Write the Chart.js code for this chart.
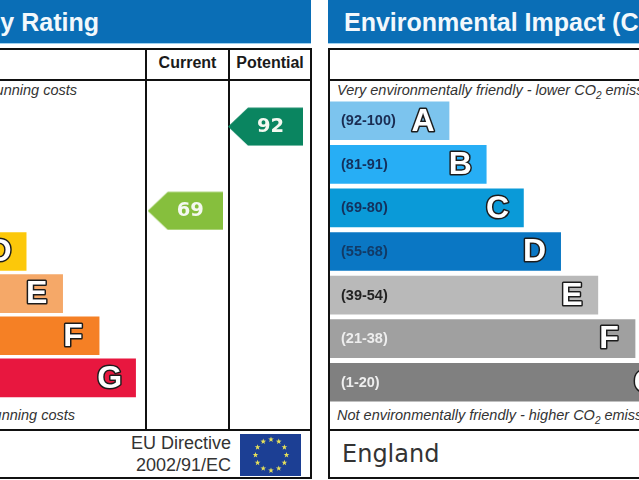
<!DOCTYPE html>
<html>
<head>
<meta charset="utf-8">
<title>Energy Efficiency Rating and Environmental Impact</title>
<script src="https://cdn.jsdelivr.net/npm/chart.js@4/dist/chart.umd.min.js"></script>
<style>
  html, body { margin: 0; padding: 0; background: #fff; }
  body { position: relative; width: 639px; height: 480px; overflow: hidden; font-family: "Liberation Sans", Arial, sans-serif; }
  .abs { position: absolute; white-space: nowrap; }
  .head { top: 0; height: 43px; background: #0a6eb6; border-bottom: 1px solid #9fd0ee; }
  .title { color: #f2f8fc; font-weight: bold; font-size: 25px; line-height: 44px; }
  .rule { position: absolute; background: #111; }
  .note { font-style: italic; font-size: 14.5px; line-height: 18px; color: #333; }
  .note sub { font-size: 10px; line-height: 0; vertical-align: -4px; }
  .col { font-weight: bold; font-size: 16px; line-height: 20px; color: #1a1a1a; text-align: center; }
  .eu { font-size: 18px; line-height: 22px; color: #333; text-align: right; }
  canvas { position: absolute; display: block; }
</style>
</head>
<body>

<div class="abs head" style="left:-10px;width:321px"></div>
<div class="abs head" style="left:328px;width:320px"></div>
<div class="abs title" style="right:540px">Energy Efficiency Rating</div>
<div class="abs title" style="left:344px">Environmental Impact (CO<sub style="font-size:16px">2</sub>) Rating</div>

<!-- table frames -->
<div class="rule" style="left:0;top:48px;width:312px;height:2px"></div>
<div class="rule" style="left:0;top:79px;width:312px;height:2px"></div>
<div class="rule" style="left:0;top:429px;width:312px;height:2px"></div>
<div class="rule" style="left:0;top:477px;width:312px;height:2px"></div>
<div class="rule" style="left:310px;top:48px;width:2px;height:431px"></div>
<div class="rule" style="left:145px;top:48px;width:2px;height:382px"></div>
<div class="rule" style="left:228px;top:48px;width:2px;height:382px"></div>
<div class="rule" style="left:328px;top:48px;width:2px;height:431px"></div>
<div class="rule" style="left:328px;top:48px;width:311px;height:2px"></div>
<div class="rule" style="left:328px;top:79px;width:311px;height:2px"></div>
<div class="rule" style="left:328px;top:429px;width:311px;height:2px"></div>
<div class="rule" style="left:328px;top:477px;width:311px;height:2px"></div>

<div class="abs col" style="left:146px;width:83px;top:53px">Current</div>
<div class="abs col" style="left:229px;width:82px;top:53px">Potential</div>

<div class="abs note" style="right:562px;top:81px">Very energy efficient - lower running costs</div>
<div class="abs note" style="right:564px;top:406px">Not energy efficient - higher running costs</div>
<div class="abs note" style="left:337px;top:81px">Very environmentally friendly - lower CO<sub>2</sub> emissions</div>
<div class="abs note" style="left:337px;top:406px">Not environmentally friendly - higher CO<sub>2</sub> emissions</div>

<div class="abs eu" style="right:408px;top:432px">EU Directive<br>2002/91/EC</div>
<svg id="flag" class="abs" style="left:240px;top:434px" width="61" height="42" viewBox="0 0 61 42"></svg>
<div class="abs" style="left:342px;top:439px;font:24px/30px 'DejaVu Sans',sans-serif;color:#333">England</div>

<canvas id="efficiency" width="515" height="305" style="left:-205px;top:99px"></canvas>
<canvas id="impact" width="350" height="305" style="left:330px;top:99px"></canvas>

<script>
const bandLabels = ['A', 'B', 'C', 'D', 'E', 'F', 'G'];
const bandRanges = ['(92-100)', '(81-91)', '(69-80)', '(55-68)', '(39-54)', '(21-38)', '(1-20)'];
const bandMins   = [92, 81, 69, 55, 39, 21, 1];
const barLengths = [32, 42, 52, 62, 72, 82, 92];
const efficiencyColors = ['#008054', '#19b459', '#8dce46', '#fcc80a', '#f5a868', '#f58025', '#e8173f'];
const impactColors     = ['#7cc4ee', '#27aef5', '#0a9ad8', '#0a77c4', '#b9b9b9', '#a0a0a0', '#808080'];
const rangeColors      = ['#1a2c52', '#14305c', '#14305c', '#123a66', '#222222', '#eeeeee', '#eeeeee'];
const currentRating   = [69];
const potentialRating = [92];

const PX_PER_UNIT = 3.72;
const CURRENT_COL_X = 105.6, POTENTIAL_COL_X = 127.6;   // column centres in bar units

const bandOf = r => bandLabels[bandMins.findIndex(m => r >= m)];

// pennant marker, sits a touch below the band centre like the original
function pennant(color) {
  const c = document.createElement('canvas');
  c.width = 75; c.height = 42;
  const g = c.getContext('2d');
  g.fillStyle = color;
  g.beginPath();
  g.moveTo(0, 22.5); g.lineTo(20, 3.5); g.lineTo(75, 3.5); g.lineTo(75, 41.5); g.lineTo(20, 41.5);
  g.closePath(); g.fill();
  return c;
}

// range text + outlined band letters + pennant numbers
const bandText = {
  id: 'bandText',
  afterDatasetsDraw(chart) {
    const { ctx, scales: { x, y } } = chart;
    ctx.save();
    ctx.textBaseline = 'middle';
    bandLabels.forEach((lbl, i) => {
      const cy = y.getPixelForValue(i);
      ctx.textAlign = 'left';
      ctx.font = 'bold 14.5px "Liberation Sans"';
      ctx.fillStyle = rangeColors[i];
      ctx.fillText(bandRanges[i], x.getPixelForValue(0) + 11, cy + 0.5);
      ctx.textAlign = 'center';
      ctx.font = 'bold 32px "Liberation Sans"';
      ctx.lineJoin = 'round';
      ctx.lineWidth = 3;
      ctx.strokeStyle = '#1c1c1c';
      const lx = x.getPixelForValue(barLengths[i]) - 26;
      ctx.strokeText(lbl, lx, cy + 1);
      ctx.fillStyle = '#fff';
      ctx.fillText(lbl, lx, cy + 1);
    });
    chart.data.datasets.forEach((ds, d) => {
      if (!ds.ratings) return;
      chart.getDatasetMeta(d).data.forEach((pt, i) => {
        ctx.textAlign = 'center';
        ctx.font = 'bold 19.5px "DejaVu Sans"';
        ctx.fillStyle = '#f4f8f0';
        ctx.fillText(String(ds.ratings[i]), pt.x + 5, pt.y + 2);
      });
    });
    ctx.restore();
  }
};

function bandChart(id, colors, extra) {
  const cv = document.getElementById(id);
  return new Chart(cv, {
    data: {
      labels: bandLabels,
      datasets: [
        { type: 'bar', data: barLengths, backgroundColor: colors, barThickness: 38, borderWidth: 0 },
        ...extra,
      ],
    },
    options: {
      indexAxis: 'y',
      responsive: false,
      animation: false,
      layout: { padding: 0 },
      plugins: { legend: { display: false }, tooltip: { enabled: false } },
      scales: {
        x: { type: 'linear', display: false, min: 0, max: cv.width / PX_PER_UNIT },
        y: { type: 'category', display: false, labels: bandLabels, grid: { display: false } },
      },
    },
    plugins: [bandText],
  });
}

function marker(ratings, colX, color) {
  return {
    type: 'scatter',
    ratings,
    data: ratings.map(r => ({ x: colX, y: bandOf(r) })),
    pointStyle: pennant(color),
    clip: false,
  };
}

bandChart('efficiency', efficiencyColors, [
  marker(currentRating, CURRENT_COL_X, '#86bf3d'),
  marker(potentialRating, POTENTIAL_COL_X, '#0a8560'),
]);
bandChart('impact', impactColors, []);

// EU flag
const flag = document.getElementById('flag');
let svg = '<rect width="61" height="42" fill="#1c3f94"/>';
for (let i = 0; i < 12; i++) {
  const a = i * Math.PI / 6;
  const cx = 31 + 15.5 * Math.sin(a), cy = 21 - 15.5 * Math.cos(a);
  let pts = '';
  for (let k = 0; k < 10; k++) {
    const r = k % 2 ? 1.2 : 3, t = k * Math.PI / 5;
    pts += (cx + r * Math.sin(t)).toFixed(2) + ',' + (cy - r * Math.cos(t)).toFixed(2) + ' ';
  }
  svg += '<polygon points="' + pts + '" fill="#e6e05a"/>';
}
flag.innerHTML = svg;
</script>
</body>
</html>
